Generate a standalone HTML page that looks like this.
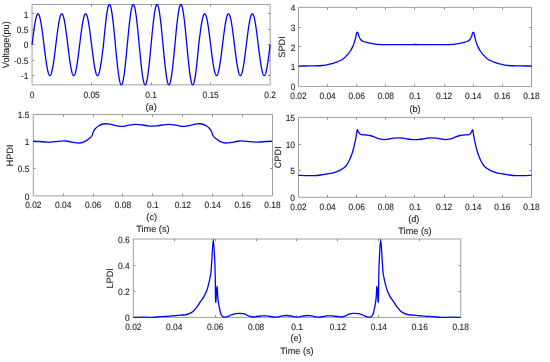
<!DOCTYPE html>
<html><head><meta charset="utf-8"><style>
html,body{margin:0;padding:0;background:#fff;width:550px;height:362px;overflow:hidden}
svg{display:block}
text{font-family:"Liberation Sans",Arial,Helvetica,sans-serif;fill:#262626;stroke:#262626;stroke-width:0.12px;text-rendering:geometricPrecision}
</style></head><body>
<svg width="550" height="362" viewBox="0 0 550 362">
<rect width="550" height="362" fill="#fff"/>
<clipPath id="ca"><rect x="31.05" y="3.5" width="240.1" height="82.35"/></clipPath>
<path d="M32.05 4.5H270.15V84.85H32.05Z" fill="none" stroke="#a0a0a0" stroke-width="1"/>
<path d="M91.5 84.85v-2.2M91.5 4.5v2.2M151.5 84.85v-2.2M151.5 4.5v2.2M210.5 84.85v-2.2M210.5 4.5v2.2M32.05 75.5h2.2M270.15 75.5h-2.2M32.05 60.5h2.2M270.15 60.5h-2.2M32.05 44.5h2.2M270.15 44.5h-2.2M32.05 29.5h2.2M270.15 29.5h-2.2M32.05 13.5h2.2M270.15 13.5h-2.2" fill="none" stroke="#8a8a8a" stroke-width="1"/>
<path d="M32.05 44.67 32.2 43.46 32.35 42.25 32.5 41.04 32.65 39.84 32.79 38.65 32.94 37.46 33.09 36.29 33.24 35.13 33.39 33.98 33.54 32.85 33.69 31.74 33.84 30.64 33.98 29.57 34.13 28.53 34.28 27.51 34.43 26.51 34.58 25.54 34.73 24.6 34.88 23.7 35.03 22.82 35.18 21.98 35.32 21.18 35.47 20.41 35.62 19.67 35.77 18.98 35.92 18.33 36.07 17.71 36.22 17.14 36.37 16.61 36.51 16.12 36.66 15.68 36.81 15.28 36.96 14.93 37.11 14.63 37.26 14.36 37.41 14.15 37.56 13.99 37.7 13.87 37.85 13.79 38 13.77 38.15 13.79 38.3 13.87 38.45 13.99 38.6 14.15 38.75 14.36 38.9 14.63 39.04 14.93 39.19 15.28 39.34 15.68 39.49 16.12 39.64 16.61 39.79 17.14 39.94 17.71 40.09 18.33 40.23 18.98 40.38 19.67 40.53 20.41 40.68 21.18 40.83 21.98 40.98 22.82 41.13 23.7 41.28 24.6 41.43 25.54 41.57 26.51 41.72 27.51 41.87 28.53 42.02 29.57 42.17 30.64 42.32 31.74 42.47 32.85 42.62 33.98 42.76 35.13 42.91 36.29 43.06 37.46 43.21 38.65 43.36 39.84 43.51 41.04 43.66 42.25 43.81 43.46 43.95 44.67 44.1 45.89 44.25 47.1 44.4 48.31 44.55 49.51 44.7 50.7 44.85 51.89 45 53.06 45.15 54.22 45.29 55.37 45.44 56.5 45.59 57.61 45.74 58.71 45.89 59.78 46.04 60.82 46.19 61.84 46.34 62.84 46.48 63.81 46.63 64.75 46.78 65.65 46.93 66.53 47.08 67.37 47.23 68.17 47.38 68.94 47.53 69.68 47.68 70.37 47.82 71.02 47.97 71.64 48.12 72.21 48.27 72.74 48.42 73.23 48.57 73.67 48.72 74.07 48.87 74.42 49.01 74.72 49.16 74.99 49.31 75.2 49.46 75.36 49.61 75.48 49.76 75.56 49.91 75.58 50.06 75.56 50.21 75.48 50.35 75.36 50.5 75.2 50.65 74.99 50.8 74.72 50.95 74.42 51.1 74.07 51.25 73.67 51.4 73.23 51.54 72.74 51.69 72.21 51.84 71.64 51.99 71.02 52.14 70.37 52.29 69.68 52.44 68.94 52.59 68.17 52.73 67.37 52.88 66.53 53.03 65.65 53.18 64.75 53.33 63.81 53.48 62.84 53.63 61.84 53.78 60.82 53.93 59.78 54.07 58.71 54.22 57.61 54.37 56.5 54.52 55.37 54.67 54.22 54.82 53.06 54.97 51.89 55.12 50.7 55.26 49.51 55.41 48.31 55.56 47.1 55.71 45.89 55.86 44.68 56.01 43.46 56.16 42.25 56.31 41.04 56.46 39.84 56.6 38.65 56.75 37.46 56.9 36.29 57.05 35.13 57.2 33.98 57.35 32.85 57.5 31.74 57.65 30.64 57.79 29.57 57.94 28.53 58.09 27.51 58.24 26.51 58.39 25.54 58.54 24.6 58.69 23.7 58.84 22.82 58.99 21.98 59.13 21.18 59.28 20.41 59.43 19.67 59.58 18.98 59.73 18.33 59.88 17.71 60.03 17.14 60.18 16.61 60.32 16.12 60.47 15.68 60.62 15.28 60.77 14.93 60.92 14.63 61.07 14.36 61.22 14.15 61.37 13.99 61.51 13.87 61.66 13.79 61.81 13.77 61.96 13.79 62.11 13.87 62.26 13.99 62.41 14.15 62.56 14.36 62.71 14.63 62.85 14.93 63 15.28 63.15 15.68 63.3 16.12 63.45 16.61 63.6 17.14 63.75 17.71 63.9 18.33 64.04 18.98 64.19 19.67 64.34 20.41 64.49 21.18 64.64 21.98 64.79 22.82 64.94 23.7 65.09 24.6 65.24 25.54 65.38 26.51 65.53 27.51 65.68 28.53 65.83 29.57 65.98 30.64 66.13 31.74 66.28 32.85 66.43 33.98 66.57 35.13 66.72 36.29 66.87 37.46 67.02 38.65 67.17 39.84 67.32 41.04 67.47 42.25 67.62 43.46 67.76 44.67 67.91 45.89 68.06 47.1 68.21 48.31 68.36 49.51 68.51 50.7 68.66 51.89 68.81 53.06 68.96 54.22 69.1 55.37 69.25 56.5 69.4 57.61 69.55 58.71 69.7 59.78 69.85 60.82 70 61.84 70.15 62.84 70.29 63.81 70.44 64.75 70.59 65.65 70.74 66.53 70.89 67.37 71.04 68.17 71.19 68.94 71.34 69.68 71.49 70.37 71.63 71.02 71.78 71.64 71.93 72.21 72.08 72.74 72.23 73.23 72.38 73.67 72.53 74.07 72.68 74.42 72.82 74.72 72.97 74.99 73.12 75.2 73.27 75.36 73.42 75.48 73.57 75.56 73.72 75.58 73.87 75.56 74.02 75.48 74.16 75.36 74.31 75.2 74.46 74.99 74.61 74.72 74.76 74.42 74.91 74.07 75.06 73.67 75.21 73.23 75.35 72.74 75.5 72.21 75.65 71.64 75.8 71.02 75.95 70.37 76.1 69.68 76.25 68.94 76.4 68.17 76.54 67.37 76.69 66.53 76.84 65.65 76.99 64.75 77.14 63.81 77.29 62.84 77.44 61.84 77.59 60.82 77.74 59.78 77.88 58.71 78.03 57.61 78.18 56.5 78.33 55.37 78.48 54.22 78.63 53.06 78.78 51.89 78.93 50.7 79.07 49.51 79.22 48.31 79.37 47.1 79.52 45.89 79.67 44.68 79.82 43.46 79.97 42.25 80.12 41.04 80.27 39.84 80.41 38.65 80.56 37.46 80.71 36.29 80.86 35.13 81.01 33.98 81.16 32.85 81.31 31.74 81.46 30.64 81.6 29.57 81.75 28.53 81.9 27.51 82.05 26.51 82.2 25.54 82.35 24.6 82.5 23.7 82.65 22.82 82.8 21.98 82.94 21.18 83.09 20.41 83.24 19.67 83.39 18.98 83.54 18.33 83.69 17.71 83.84 17.14 83.99 16.61 84.13 16.12 84.28 15.68 84.43 15.28 84.58 14.93 84.73 14.63 84.88 14.36 85.03 14.15 85.18 13.99 85.32 13.87 85.47 13.79 85.62 13.77 85.77 13.79 85.92 13.87 86.07 13.99 86.22 14.15 86.37 14.36 86.52 14.63 86.66 14.93 86.81 15.28 86.96 15.68 87.11 16.12 87.26 16.61 87.41 17.14 87.56 17.71 87.71 18.33 87.85 18.98 88 19.67 88.15 20.41 88.3 21.18 88.45 21.98 88.6 22.82 88.75 23.7 88.9 24.6 89.05 25.54 89.19 26.51 89.34 27.51 89.49 28.53 89.64 29.57 89.79 30.64 89.94 31.74 90.09 32.85 90.24 33.98 90.38 35.13 90.53 36.29 90.68 37.46 90.83 38.65 90.98 39.84 91.13 41.04 91.28 42.25 91.43 43.46 91.57 44.68 91.72 45.89 91.87 47.1 92.02 48.31 92.17 49.51 92.32 50.7 92.47 51.89 92.62 53.06 92.77 54.22 92.91 55.37 93.06 56.5 93.21 57.61 93.36 58.71 93.51 59.78 93.66 60.82 93.81 61.84 93.96 62.84 94.1 63.81 94.25 64.75 94.4 65.65 94.55 66.53 94.7 67.37 94.85 68.17 95 68.94 95.15 69.68 95.3 70.37 95.44 71.02 95.59 71.64 95.74 72.21 95.89 72.74 96.04 73.23 96.19 73.67 96.34 74.07 96.49 74.42 96.63 74.72 96.78 74.99 96.93 75.2 97.08 75.36 97.23 75.48 97.38 75.56 97.53 75.58 97.68 75.56 97.83 75.48 97.97 75.36 98.12 75.2 98.27 74.99 98.42 74.72 98.57 74.42 98.72 74.07 98.87 73.67 99.02 73.23 99.16 72.74 99.31 72.21 99.46 71.64 99.61 71.02 99.76 70.37 99.91 69.68 100.06 68.94 100.21 68.17 100.35 67.37 100.5 66.53 100.65 65.65 100.8 64.75 100.95 63.81 101.1 62.84 101.25 61.84 101.4 60.82 101.55 59.78 101.69 58.71 101.84 57.61 101.99 56.5 102.14 55.37 102.29 54.22 102.44 53.06 102.59 51.89 102.74 50.7 102.88 49.51 103.03 48.31 103.18 47.1 103.33 45.89 103.48 44.68 103.63 43.1 103.78 41.52 103.93 39.95 104.08 38.39 104.22 36.84 104.37 35.3 104.52 33.77 104.67 32.26 104.82 30.77 104.97 29.3 105.12 27.86 105.27 26.44 105.41 25.04 105.56 23.68 105.71 22.35 105.86 21.06 106.01 19.8 106.16 18.58 106.31 17.4 106.46 16.27 106.61 15.17 106.75 14.13 106.9 13.12 107.05 12.17 107.2 11.27 107.35 10.42 107.5 9.62 107.65 8.88 107.8 8.19 107.94 7.56 108.09 6.98 108.24 6.47 108.39 6.01 108.54 5.61 108.69 5.27 108.84 4.99 108.99 4.78 109.13 4.62 109.28 4.53 109.43 4.5 109.58 4.53 109.73 4.62 109.88 4.78 110.03 4.99 110.18 5.27 110.33 5.61 110.47 6.01 110.62 6.47 110.77 6.98 110.92 7.56 111.07 8.19 111.22 8.88 111.37 9.62 111.52 10.42 111.66 11.27 111.81 12.17 111.96 13.12 112.11 14.13 112.26 15.17 112.41 16.27 112.56 17.4 112.71 18.58 112.86 19.8 113 21.06 113.15 22.35 113.3 23.68 113.45 25.04 113.6 26.44 113.75 27.86 113.9 29.3 114.05 30.77 114.19 32.26 114.34 33.77 114.49 35.3 114.64 36.84 114.79 38.39 114.94 39.95 115.09 41.52 115.24 43.1 115.38 44.68 115.53 46.25 115.68 47.83 115.83 49.4 115.98 50.96 116.13 52.51 116.28 54.05 116.43 55.58 116.58 57.09 116.72 58.58 116.87 60.05 117.02 61.49 117.17 62.91 117.32 64.31 117.47 65.67 117.62 67 117.77 68.29 117.91 69.55 118.06 70.77 118.21 71.95 118.36 73.08 118.51 74.18 118.66 75.22 118.81 76.23 118.96 77.18 119.11 78.08 119.25 78.93 119.4 79.73 119.55 80.47 119.7 81.16 119.85 81.79 120 82.37 120.15 82.88 120.3 83.34 120.44 83.74 120.59 84.08 120.74 84.36 120.89 84.57 121.04 84.73 121.19 84.82 121.34 84.85 121.49 84.82 121.64 84.73 121.78 84.57 121.93 84.36 122.08 84.08 122.23 83.74 122.38 83.34 122.53 82.88 122.68 82.37 122.83 81.79 122.97 81.16 123.12 80.47 123.27 79.73 123.42 78.93 123.57 78.08 123.72 77.18 123.87 76.23 124.02 75.22 124.16 74.18 124.31 73.08 124.46 71.95 124.61 70.77 124.76 69.55 124.91 68.29 125.06 67 125.21 65.67 125.36 64.31 125.5 62.91 125.65 61.49 125.8 60.05 125.95 58.58 126.1 57.09 126.25 55.58 126.4 54.05 126.55 52.51 126.69 50.96 126.84 49.4 126.99 47.83 127.14 46.25 127.29 44.68 127.44 43.1 127.59 41.52 127.74 39.95 127.89 38.39 128.03 36.84 128.18 35.3 128.33 33.77 128.48 32.26 128.63 30.77 128.78 29.3 128.93 27.86 129.08 26.44 129.22 25.04 129.37 23.68 129.52 22.35 129.67 21.06 129.82 19.8 129.97 18.58 130.12 17.4 130.27 16.27 130.42 15.17 130.56 14.13 130.71 13.12 130.86 12.17 131.01 11.27 131.16 10.42 131.31 9.62 131.46 8.88 131.61 8.19 131.75 7.56 131.9 6.98 132.05 6.47 132.2 6.01 132.35 5.61 132.5 5.27 132.65 4.99 132.8 4.78 132.94 4.62 133.09 4.53 133.24 4.5 133.39 4.53 133.54 4.62 133.69 4.78 133.84 4.99 133.99 5.27 134.14 5.61 134.28 6.01 134.43 6.47 134.58 6.98 134.73 7.56 134.88 8.19 135.03 8.88 135.18 9.62 135.33 10.42 135.47 11.27 135.62 12.17 135.77 13.12 135.92 14.13 136.07 15.17 136.22 16.27 136.37 17.4 136.52 18.58 136.67 19.8 136.81 21.06 136.96 22.35 137.11 23.68 137.26 25.04 137.41 26.44 137.56 27.86 137.71 29.3 137.86 30.77 138 32.26 138.15 33.77 138.3 35.3 138.45 36.84 138.6 38.39 138.75 39.95 138.9 41.52 139.05 43.1 139.19 44.67 139.34 46.25 139.49 47.83 139.64 49.4 139.79 50.96 139.94 52.51 140.09 54.05 140.24 55.58 140.39 57.09 140.53 58.58 140.68 60.05 140.83 61.49 140.98 62.91 141.13 64.31 141.28 65.67 141.43 67 141.58 68.29 141.72 69.55 141.87 70.77 142.02 71.95 142.17 73.08 142.32 74.18 142.47 75.22 142.62 76.23 142.77 77.18 142.92 78.08 143.06 78.93 143.21 79.73 143.36 80.47 143.51 81.16 143.66 81.79 143.81 82.37 143.96 82.88 144.11 83.34 144.25 83.74 144.4 84.08 144.55 84.36 144.7 84.57 144.85 84.73 145 84.82 145.15 84.85 145.3 84.82 145.45 84.73 145.59 84.57 145.74 84.36 145.89 84.08 146.04 83.74 146.19 83.34 146.34 82.88 146.49 82.37 146.64 81.79 146.78 81.16 146.93 80.47 147.08 79.73 147.23 78.93 147.38 78.08 147.53 77.18 147.68 76.23 147.83 75.22 147.97 74.18 148.12 73.08 148.27 71.95 148.42 70.77 148.57 69.55 148.72 68.29 148.87 67 149.02 65.67 149.17 64.31 149.31 62.91 149.46 61.49 149.61 60.05 149.76 58.58 149.91 57.09 150.06 55.58 150.21 54.05 150.36 52.51 150.5 50.96 150.65 49.4 150.8 47.83 150.95 46.25 151.1 44.67 151.25 43.1 151.4 41.52 151.55 39.95 151.7 38.39 151.84 36.84 151.99 35.3 152.14 33.77 152.29 32.26 152.44 30.77 152.59 29.3 152.74 27.86 152.89 26.44 153.03 25.04 153.18 23.68 153.33 22.35 153.48 21.06 153.63 19.8 153.78 18.58 153.93 17.4 154.08 16.27 154.23 15.17 154.37 14.13 154.52 13.12 154.67 12.17 154.82 11.27 154.97 10.42 155.12 9.62 155.27 8.88 155.42 8.19 155.56 7.56 155.71 6.98 155.86 6.47 156.01 6.01 156.16 5.61 156.31 5.27 156.46 4.99 156.61 4.78 156.75 4.62 156.9 4.53 157.05 4.5 157.2 4.53 157.35 4.62 157.5 4.78 157.65 4.99 157.8 5.27 157.95 5.61 158.09 6.01 158.24 6.47 158.39 6.98 158.54 7.56 158.69 8.19 158.84 8.88 158.99 9.62 159.14 10.42 159.28 11.27 159.43 12.17 159.58 13.12 159.73 14.13 159.88 15.17 160.03 16.27 160.18 17.4 160.33 18.58 160.48 19.8 160.62 21.06 160.77 22.35 160.92 23.68 161.07 25.04 161.22 26.44 161.37 27.86 161.52 29.3 161.67 30.77 161.81 32.26 161.96 33.77 162.11 35.3 162.26 36.84 162.41 38.39 162.56 39.95 162.71 41.52 162.86 43.1 163 44.68 163.15 46.25 163.3 47.83 163.45 49.4 163.6 50.96 163.75 52.51 163.9 54.05 164.05 55.58 164.2 57.09 164.34 58.58 164.49 60.05 164.64 61.49 164.79 62.91 164.94 64.31 165.09 65.67 165.24 67 165.39 68.29 165.53 69.55 165.68 70.77 165.83 71.95 165.98 73.08 166.13 74.18 166.28 75.22 166.43 76.23 166.58 77.18 166.73 78.08 166.87 78.93 167.02 79.73 167.17 80.47 167.32 81.16 167.47 81.79 167.62 82.37 167.77 82.88 167.92 83.34 168.06 83.74 168.21 84.08 168.36 84.36 168.51 84.57 168.66 84.73 168.81 84.82 168.96 84.85 169.11 84.82 169.26 84.73 169.4 84.57 169.55 84.36 169.7 84.08 169.85 83.74 170 83.34 170.15 82.88 170.3 82.37 170.45 81.79 170.59 81.16 170.74 80.47 170.89 79.73 171.04 78.93 171.19 78.08 171.34 77.18 171.49 76.23 171.64 75.22 171.78 74.18 171.93 73.08 172.08 71.95 172.23 70.77 172.38 69.55 172.53 68.29 172.68 67 172.83 65.67 172.98 64.31 173.12 62.91 173.27 61.49 173.42 60.05 173.57 58.58 173.72 57.09 173.87 55.58 174.02 54.05 174.17 52.51 174.31 50.96 174.46 49.4 174.61 47.83 174.76 46.25 174.91 44.68 175.06 43.1 175.21 41.52 175.36 39.95 175.51 38.39 175.65 36.84 175.8 35.3 175.95 33.77 176.1 32.26 176.25 30.77 176.4 29.3 176.55 27.86 176.7 26.44 176.84 25.04 176.99 23.68 177.14 22.35 177.29 21.06 177.44 19.8 177.59 18.58 177.74 17.4 177.89 16.27 178.04 15.17 178.18 14.13 178.33 13.12 178.48 12.17 178.63 11.27 178.78 10.42 178.93 9.62 179.08 8.88 179.23 8.19 179.37 7.56 179.52 6.98 179.67 6.47 179.82 6.01 179.97 5.61 180.12 5.27 180.27 4.99 180.42 4.78 180.56 4.62 180.71 4.53 180.86 4.5 181.01 4.53 181.16 4.62 181.31 4.78 181.46 4.99 181.61 5.27 181.76 5.61 181.9 6.01 182.05 6.47 182.2 6.98 182.35 7.56 182.5 8.19 182.65 8.88 182.8 9.62 182.95 10.42 183.09 11.27 183.24 12.17 183.39 13.12 183.54 14.13 183.69 15.17 183.84 16.27 183.99 17.4 184.14 18.58 184.29 19.8 184.43 21.06 184.58 22.35 184.73 23.68 184.88 25.04 185.03 26.44 185.18 27.86 185.33 29.3 185.48 30.77 185.62 32.26 185.77 33.77 185.92 35.3 186.07 36.84 186.22 38.39 186.37 39.95 186.52 41.52 186.67 43.1 186.81 44.68 186.96 46.25 187.11 47.83 187.26 49.4 187.41 50.96 187.56 52.51 187.71 54.05 187.86 55.58 188.01 57.09 188.15 58.58 188.3 60.05 188.45 61.49 188.6 62.91 188.75 64.31 188.9 65.67 189.05 67 189.2 68.29 189.34 69.55 189.49 70.77 189.64 71.95 189.79 73.08 189.94 74.18 190.09 75.22 190.24 76.23 190.39 77.18 190.54 78.08 190.68 78.93 190.83 79.73 190.98 80.47 191.13 81.16 191.28 81.79 191.43 82.37 191.58 82.88 191.73 83.34 191.87 83.74 192.02 84.08 192.17 84.36 192.32 84.57 192.47 84.73 192.62 84.82 192.77 84.85 192.92 84.82 193.07 84.73 193.21 84.57 193.36 84.36 193.51 84.08 193.66 83.74 193.81 83.34 193.96 82.88 194.11 82.37 194.26 81.79 194.4 81.16 194.55 80.47 194.7 79.73 194.85 78.93 195 78.08 195.15 77.18 195.3 76.23 195.45 75.22 195.59 74.18 195.74 73.08 195.89 71.95 196.04 70.77 196.19 69.55 196.34 68.29 196.49 67 196.64 65.67 196.79 64.31 196.93 62.91 197.08 61.49 197.23 60.05 197.38 58.58 197.53 57.09 197.68 55.58 197.83 54.05 197.98 52.51 198.12 50.96 198.27 49.4 198.42 47.83 198.57 46.25 198.72 44.67 198.87 43.46 199.02 42.25 199.17 41.04 199.32 39.84 199.46 38.65 199.61 37.46 199.76 36.29 199.91 35.13 200.06 33.98 200.21 32.85 200.36 31.74 200.51 30.64 200.65 29.57 200.8 28.53 200.95 27.51 201.1 26.51 201.25 25.54 201.4 24.6 201.55 23.7 201.7 22.82 201.85 21.98 201.99 21.18 202.14 20.41 202.29 19.67 202.44 18.98 202.59 18.33 202.74 17.71 202.89 17.14 203.04 16.61 203.18 16.12 203.33 15.68 203.48 15.28 203.63 14.93 203.78 14.63 203.93 14.36 204.08 14.15 204.23 13.99 204.37 13.87 204.52 13.79 204.67 13.77 204.82 13.79 204.97 13.87 205.12 13.99 205.27 14.15 205.42 14.36 205.57 14.63 205.71 14.93 205.86 15.28 206.01 15.68 206.16 16.12 206.31 16.61 206.46 17.14 206.61 17.71 206.76 18.33 206.9 18.98 207.05 19.67 207.2 20.41 207.35 21.18 207.5 21.98 207.65 22.82 207.8 23.7 207.95 24.6 208.1 25.54 208.24 26.51 208.39 27.51 208.54 28.53 208.69 29.57 208.84 30.64 208.99 31.74 209.14 32.85 209.29 33.98 209.43 35.13 209.58 36.29 209.73 37.46 209.88 38.65 210.03 39.84 210.18 41.04 210.33 42.25 210.48 43.46 210.62 44.68 210.77 45.89 210.92 47.1 211.07 48.31 211.22 49.51 211.37 50.7 211.52 51.89 211.67 53.06 211.82 54.22 211.96 55.37 212.11 56.5 212.26 57.61 212.41 58.71 212.56 59.78 212.71 60.82 212.86 61.84 213.01 62.84 213.15 63.81 213.3 64.75 213.45 65.65 213.6 66.53 213.75 67.37 213.9 68.17 214.05 68.94 214.2 69.68 214.35 70.37 214.49 71.02 214.64 71.64 214.79 72.21 214.94 72.74 215.09 73.23 215.24 73.67 215.39 74.07 215.54 74.42 215.68 74.72 215.83 74.99 215.98 75.2 216.13 75.36 216.28 75.48 216.43 75.56 216.58 75.58 216.73 75.56 216.88 75.48 217.02 75.36 217.17 75.2 217.32 74.99 217.47 74.72 217.62 74.42 217.77 74.07 217.92 73.67 218.07 73.23 218.21 72.74 218.36 72.21 218.51 71.64 218.66 71.02 218.81 70.37 218.96 69.68 219.11 68.94 219.26 68.17 219.4 67.37 219.55 66.53 219.7 65.65 219.85 64.75 220 63.81 220.15 62.84 220.3 61.84 220.45 60.82 220.6 59.78 220.74 58.71 220.89 57.61 221.04 56.5 221.19 55.37 221.34 54.22 221.49 53.06 221.64 51.89 221.79 50.7 221.93 49.51 222.08 48.31 222.23 47.1 222.38 45.89 222.53 44.68 222.68 43.46 222.83 42.25 222.98 41.04 223.13 39.84 223.27 38.65 223.42 37.46 223.57 36.29 223.72 35.13 223.87 33.98 224.02 32.85 224.17 31.74 224.32 30.64 224.46 29.57 224.61 28.53 224.76 27.51 224.91 26.51 225.06 25.54 225.21 24.6 225.36 23.7 225.51 22.82 225.66 21.98 225.8 21.18 225.95 20.41 226.1 19.67 226.25 18.98 226.4 18.33 226.55 17.71 226.7 17.14 226.85 16.61 226.99 16.12 227.14 15.68 227.29 15.28 227.44 14.93 227.59 14.63 227.74 14.36 227.89 14.15 228.04 13.99 228.18 13.87 228.33 13.79 228.48 13.77 228.63 13.79 228.78 13.87 228.93 13.99 229.08 14.15 229.23 14.36 229.38 14.63 229.52 14.93 229.67 15.28 229.82 15.68 229.97 16.12 230.12 16.61 230.27 17.14 230.42 17.71 230.57 18.33 230.71 18.98 230.86 19.67 231.01 20.41 231.16 21.18 231.31 21.98 231.46 22.82 231.61 23.7 231.76 24.6 231.91 25.54 232.05 26.51 232.2 27.51 232.35 28.53 232.5 29.57 232.65 30.64 232.8 31.74 232.95 32.85 233.1 33.98 233.24 35.13 233.39 36.29 233.54 37.46 233.69 38.65 233.84 39.84 233.99 41.04 234.14 42.25 234.29 43.46 234.43 44.68 234.58 45.89 234.73 47.1 234.88 48.31 235.03 49.51 235.18 50.7 235.33 51.89 235.48 53.06 235.63 54.22 235.77 55.37 235.92 56.5 236.07 57.61 236.22 58.71 236.37 59.78 236.52 60.82 236.67 61.84 236.82 62.84 236.96 63.81 237.11 64.75 237.26 65.65 237.41 66.53 237.56 67.37 237.71 68.17 237.86 68.94 238.01 69.68 238.16 70.37 238.3 71.02 238.45 71.64 238.6 72.21 238.75 72.74 238.9 73.23 239.05 73.67 239.2 74.07 239.35 74.42 239.49 74.72 239.64 74.99 239.79 75.2 239.94 75.36 240.09 75.48 240.24 75.56 240.39 75.58 240.54 75.56 240.69 75.48 240.83 75.36 240.98 75.2 241.13 74.99 241.28 74.72 241.43 74.42 241.58 74.07 241.73 73.67 241.88 73.23 242.02 72.74 242.17 72.21 242.32 71.64 242.47 71.02 242.62 70.37 242.77 69.68 242.92 68.94 243.07 68.17 243.21 67.37 243.36 66.53 243.51 65.65 243.66 64.75 243.81 63.81 243.96 62.84 244.11 61.84 244.26 60.82 244.41 59.78 244.55 58.71 244.7 57.61 244.85 56.5 245 55.37 245.15 54.22 245.3 53.06 245.45 51.89 245.6 50.7 245.74 49.51 245.89 48.31 246.04 47.1 246.19 45.89 246.34 44.68 246.49 43.46 246.64 42.25 246.79 41.04 246.94 39.84 247.08 38.65 247.23 37.46 247.38 36.29 247.53 35.13 247.68 33.98 247.83 32.85 247.98 31.74 248.13 30.64 248.27 29.57 248.42 28.53 248.57 27.51 248.72 26.51 248.87 25.54 249.02 24.6 249.17 23.7 249.32 22.82 249.47 21.98 249.61 21.18 249.76 20.41 249.91 19.67 250.06 18.98 250.21 18.33 250.36 17.71 250.51 17.14 250.66 16.61 250.8 16.12 250.95 15.68 251.1 15.28 251.25 14.93 251.4 14.63 251.55 14.36 251.7 14.15 251.85 13.99 251.99 13.87 252.14 13.79 252.29 13.77 252.44 13.79 252.59 13.87 252.74 13.99 252.89 14.15 253.04 14.36 253.19 14.63 253.33 14.93 253.48 15.28 253.63 15.68 253.78 16.12 253.93 16.61 254.08 17.14 254.23 17.71 254.38 18.33 254.52 18.98 254.67 19.67 254.82 20.41 254.97 21.18 255.12 21.98 255.27 22.82 255.42 23.7 255.57 24.6 255.72 25.54 255.86 26.51 256.01 27.51 256.16 28.53 256.31 29.57 256.46 30.64 256.61 31.74 256.76 32.85 256.91 33.98 257.05 35.13 257.2 36.29 257.35 37.46 257.5 38.65 257.65 39.84 257.8 41.04 257.95 42.25 258.1 43.46 258.24 44.68 258.39 45.89 258.54 47.1 258.69 48.31 258.84 49.51 258.99 50.7 259.14 51.89 259.29 53.06 259.44 54.22 259.58 55.37 259.73 56.5 259.88 57.61 260.03 58.71 260.18 59.78 260.33 60.82 260.48 61.84 260.63 62.84 260.77 63.81 260.92 64.75 261.07 65.65 261.22 66.53 261.37 67.37 261.52 68.17 261.67 68.94 261.82 69.68 261.97 70.37 262.11 71.02 262.26 71.64 262.41 72.21 262.56 72.74 262.71 73.23 262.86 73.67 263.01 74.07 263.16 74.42 263.3 74.72 263.45 74.99 263.6 75.2 263.75 75.36 263.9 75.48 264.05 75.56 264.2 75.58 264.35 75.56 264.5 75.48 264.64 75.36 264.79 75.2 264.94 74.99 265.09 74.72 265.24 74.42 265.39 74.07 265.54 73.67 265.69 73.23 265.83 72.74 265.98 72.21 266.13 71.64 266.28 71.02 266.43 70.37 266.58 69.68 266.73 68.94 266.88 68.17 267.02 67.37 267.17 66.53 267.32 65.65 267.47 64.75 267.62 63.81 267.77 62.84 267.92 61.84 268.07 60.82 268.22 59.78 268.36 58.71 268.51 57.61 268.66 56.5 268.81 55.37 268.96 54.22 269.11 53.06 269.26 51.89 269.41 50.7 269.55 49.51 269.7 48.31 269.85 47.1 270 45.89 270.15 44.67" fill="none" stroke="#0000ff" stroke-width="1.3" stroke-linejoin="round" clip-path="url(#ca)"/>
<g font-size="9.1" text-anchor="middle"><text transform="translate(32.05 97.55) scale(0.92 1)">0</text><text transform="translate(91.57 97.55) scale(0.92 1)">0.05</text><text transform="translate(151.1 97.55) scale(0.92 1)">0.1</text><text transform="translate(210.62 97.55) scale(0.92 1)">0.15</text><text transform="translate(270.15 97.55) scale(0.92 1)">0.2</text></g>
<g font-size="9.1" text-anchor="end"><text transform="translate(28.45 79.38) scale(0.92 1)">-1</text><text transform="translate(28.45 63.93) scale(0.92 1)">-0.5</text><text transform="translate(28.45 48.47) scale(0.92 1)">0</text><text transform="translate(28.45 33.02) scale(0.92 1)">0.5</text><text transform="translate(28.45 17.57) scale(0.92 1)">1</text></g>
<text font-size="9.2" text-anchor="middle" x="151.1" y="110.05">(a)</text>
<clipPath id="cb"><rect x="297.5" y="6.4" width="235" height="81"/></clipPath>
<path d="M298.5 7.4H531.5V86.4H298.5Z" fill="none" stroke="#a0a0a0" stroke-width="1"/>
<path d="M327.5 86.4v-2.2M327.5 7.4v2.2M356.5 86.4v-2.2M356.5 7.4v2.2M385.5 86.4v-2.2M385.5 7.4v2.2M414.5 86.4v-2.2M414.5 7.4v2.2M444.5 86.4v-2.2M444.5 7.4v2.2M473.5 86.4v-2.2M473.5 7.4v2.2M502.5 86.4v-2.2M502.5 7.4v2.2M298.5 66.5h2.2M531.5 66.5h-2.2M298.5 46.5h2.2M531.5 46.5h-2.2M298.5 27.5h2.2M531.5 27.5h-2.2" fill="none" stroke="#8a8a8a" stroke-width="1"/>
<path d="M298.5 66.1C300.27 66.07 306.25 65.95 309.1 65.9C311.95 65.85 313.42 65.87 315.6 65.8C317.78 65.73 320.33 65.67 322.2 65.5C324.07 65.33 325.17 65.12 326.8 64.8C328.43 64.48 330.55 64 332 63.6C333.45 63.2 334.28 62.83 335.5 62.4C336.72 61.97 337.93 61.65 339.3 61C340.67 60.35 342.38 59.5 343.7 58.5C345.02 57.5 346.1 56.25 347.2 55C348.3 53.75 349.42 52.32 350.3 51C351.18 49.68 351.83 48.5 352.5 47.1C353.17 45.7 353.78 44.15 354.3 42.6C354.82 41.05 355.18 39.47 355.6 37.8C356.02 36.13 356.38 33.38 356.8 32.6C357.22 31.82 357.73 32.43 358.1 33.1C358.47 33.77 358.55 35.5 359 36.6C359.45 37.7 360.07 38.88 360.8 39.7C361.53 40.52 362.45 41.05 363.4 41.5C364.35 41.95 365.25 42.08 366.5 42.4C367.75 42.72 369.42 43.1 370.9 43.4C372.38 43.7 373.92 44.02 375.4 44.2C376.88 44.38 378.33 44.43 379.8 44.5C381.27 44.57 378.33 44.6 384.2 44.6C390.07 44.6 409.77 44.52 415 44.5C420.23 44.48 410.37 44.48 415.6 44.5C420.83 44.52 440.53 44.6 446.4 44.6C452.27 44.6 449.33 44.57 450.8 44.5C452.27 44.43 453.72 44.38 455.2 44.2C456.68 44.02 458.22 43.7 459.7 43.4C461.18 43.1 462.85 42.72 464.1 42.4C465.35 42.08 466.25 41.95 467.2 41.5C468.15 41.05 469.07 40.52 469.8 39.7C470.53 38.88 471.15 37.7 471.6 36.6C472.05 35.5 472.13 33.77 472.5 33.1C472.87 32.43 473.38 31.82 473.8 32.6C474.22 33.38 474.58 36.13 475 37.8C475.42 39.47 475.78 41.05 476.3 42.6C476.82 44.15 477.43 45.7 478.1 47.1C478.77 48.5 479.42 49.68 480.3 51C481.18 52.32 482.3 53.75 483.4 55C484.5 56.25 485.58 57.5 486.9 58.5C488.22 59.5 489.93 60.35 491.3 61C492.67 61.65 493.88 61.97 495.1 62.4C496.32 62.83 497.15 63.2 498.6 63.6C500.05 64 502.17 64.48 503.8 64.8C505.43 65.12 506.53 65.33 508.4 65.5C510.27 65.67 512.82 65.73 515 65.8C517.18 65.87 518.65 65.85 521.5 65.9C524.35 65.95 530.33 66.07 532.1 66.1" fill="none" stroke="#0000ff" stroke-width="1.3" stroke-linejoin="round" clip-path="url(#cb)"/>
<g font-size="9.1" text-anchor="middle"><text transform="translate(298.5 98.8) scale(0.92 1)">0.02</text><text transform="translate(327.62 98.8) scale(0.92 1)">0.04</text><text transform="translate(356.75 98.8) scale(0.92 1)">0.06</text><text transform="translate(385.88 98.8) scale(0.92 1)">0.08</text><text transform="translate(415 98.8) scale(0.92 1)">0.1</text><text transform="translate(444.12 98.8) scale(0.92 1)">0.12</text><text transform="translate(473.25 98.8) scale(0.92 1)">0.14</text><text transform="translate(502.38 98.8) scale(0.92 1)">0.16</text><text transform="translate(531.5 98.8) scale(0.92 1)">0.18</text></g>
<g font-size="9.1" text-anchor="end"><text transform="translate(295.3 90.1) scale(0.92 1)">0</text><text transform="translate(295.3 70.35) scale(0.92 1)">1</text><text transform="translate(295.3 50.6) scale(0.92 1)">2</text><text transform="translate(295.3 30.85) scale(0.92 1)">3</text><text transform="translate(295.3 11.1) scale(0.92 1)">4</text></g>
<text font-size="9.2" text-anchor="middle" x="415" y="111.6">(b)</text>
<clipPath id="cc"><rect x="32.3" y="113.5" width="241.2" height="83.4"/></clipPath>
<path d="M33.3 114.5H272.5V195.9H33.3Z" fill="none" stroke="#a0a0a0" stroke-width="1"/>
<path d="M63.5 195.9v-2.2M63.5 114.5v2.2M93.5 195.9v-2.2M93.5 114.5v2.2M122.5 195.9v-2.2M122.5 114.5v2.2M152.5 195.9v-2.2M152.5 114.5v2.2M182.5 195.9v-2.2M182.5 114.5v2.2M212.5 195.9v-2.2M212.5 114.5v2.2M242.5 195.9v-2.2M242.5 114.5v2.2M33.3 168.5h2.2M272.5 168.5h-2.2M33.3 141.5h2.2M272.5 141.5h-2.2" fill="none" stroke="#8a8a8a" stroke-width="1"/>
<path d="M33 141.2C33.97 141.25 36.35 141.35 38.8 141.5C41.25 141.65 45.03 142.08 47.7 142.1C50.37 142.12 52.15 141.82 54.8 141.6C57.45 141.38 61.25 140.82 63.6 140.8C65.95 140.78 67.13 141.2 68.9 141.5C70.67 141.8 72.47 142.35 74.2 142.6C75.93 142.85 77.57 143.17 79.3 143C81.03 142.83 82.98 142.3 84.6 141.6C86.22 140.9 87.75 139.82 89 138.8C90.25 137.78 91.43 136.57 92.1 135.5C92.77 134.43 92.48 133.52 93 132.4C93.52 131.28 94.23 129.92 95.2 128.8C96.17 127.68 97.47 126.5 98.8 125.7C100.13 124.9 101.73 124.32 103.2 124C104.67 123.68 106.13 123.7 107.6 123.8C109.07 123.9 110.53 124.28 112 124.6C113.47 124.92 114.67 125.4 116.4 125.7C118.13 126 120.37 126.48 122.4 126.4C124.43 126.32 126.38 125.53 128.6 125.2C130.82 124.87 133.33 124.43 135.7 124.4C138.07 124.37 140.73 124.75 142.8 125C144.87 125.25 146.48 125.7 148.1 125.9C149.72 126.1 151.03 126.2 152.5 126.2C153.97 126.2 155.28 126.1 156.9 125.9C158.52 125.7 160.13 125.25 162.2 125C164.27 124.75 166.93 124.37 169.3 124.4C171.67 124.43 174.18 124.87 176.4 125.2C178.62 125.53 180.57 126.32 182.6 126.4C184.63 126.48 186.87 126 188.6 125.7C190.33 125.4 191.53 124.92 193 124.6C194.47 124.28 195.93 123.9 197.4 123.8C198.87 123.7 200.33 123.68 201.8 124C203.27 124.32 204.87 124.9 206.2 125.7C207.53 126.5 208.83 127.68 209.8 128.8C210.77 129.92 211.48 131.28 212 132.4C212.52 133.52 212.23 134.43 212.9 135.5C213.57 136.57 214.75 137.78 216 138.8C217.25 139.82 218.78 140.9 220.4 141.6C222.02 142.3 223.97 142.83 225.7 143C227.43 143.17 229.07 142.85 230.8 142.6C232.53 142.35 234.33 141.8 236.1 141.5C237.87 141.2 239.05 140.78 241.4 140.8C243.75 140.82 247.55 141.38 250.2 141.6C252.85 141.82 254.63 142.12 257.3 142.1C259.97 142.08 263.75 141.65 266.2 141.5C268.65 141.35 271.03 141.25 272 141.2" fill="none" stroke="#0000ff" stroke-width="1.3" stroke-linejoin="round" clip-path="url(#cc)"/>
<g font-size="9.1" text-anchor="middle"><text transform="translate(33.3 208.1) scale(0.92 1)">0.02</text><text transform="translate(63.2 208.1) scale(0.92 1)">0.04</text><text transform="translate(93.1 208.1) scale(0.92 1)">0.06</text><text transform="translate(123 208.1) scale(0.92 1)">0.08</text><text transform="translate(152.9 208.1) scale(0.92 1)">0.1</text><text transform="translate(182.8 208.1) scale(0.92 1)">0.12</text><text transform="translate(212.7 208.1) scale(0.92 1)">0.14</text><text transform="translate(242.6 208.1) scale(0.92 1)">0.16</text><text transform="translate(272.5 208.1) scale(0.92 1)">0.18</text></g>
<g font-size="9.1" text-anchor="end"><text transform="translate(29.5 199.6) scale(0.92 1)">0</text><text transform="translate(29.5 172.47) scale(0.92 1)">0.5</text><text transform="translate(29.5 145.33) scale(0.92 1)">1</text><text transform="translate(29.5 118.2) scale(0.92 1)">1.5</text></g>
<text font-size="9.2" text-anchor="middle" x="151.7" y="220.2">(c)</text>
<text font-size="9.2" text-anchor="middle" x="152.9" y="232.4">Time (s)</text>
<clipPath id="cd"><rect x="297.5" y="116.4" width="235" height="81.9"/></clipPath>
<path d="M298.5 117.4H531.5V197.3H298.5Z" fill="none" stroke="#a0a0a0" stroke-width="1"/>
<path d="M327.5 197.3v-2.2M327.5 117.4v2.2M356.5 197.3v-2.2M356.5 117.4v2.2M385.5 197.3v-2.2M385.5 117.4v2.2M414.5 197.3v-2.2M414.5 117.4v2.2M444.5 197.3v-2.2M444.5 117.4v2.2M473.5 197.3v-2.2M473.5 117.4v2.2M502.5 197.3v-2.2M502.5 117.4v2.2M298.5 170.5h2.2M531.5 170.5h-2.2M298.5 144.5h2.2M531.5 144.5h-2.2" fill="none" stroke="#8a8a8a" stroke-width="1"/>
<path d="M298.5 175.4C299.55 175.43 302.27 175.57 304.8 175.6C307.33 175.63 311.03 175.7 313.7 175.6C316.37 175.5 318.6 175.27 320.8 175C323 174.73 324.85 174.37 326.9 174C328.95 173.63 331.03 173.37 333.1 172.8C335.17 172.23 337.62 171.35 339.3 170.6C340.98 169.85 342.1 169.07 343.2 168.3C344.3 167.53 345.02 167.05 345.9 166C346.78 164.95 347.72 163.4 348.5 162C349.28 160.6 349.88 159.38 350.6 157.6C351.32 155.82 352.13 153.53 352.8 151.3C353.47 149.07 354.08 146.42 354.6 144.2C355.12 141.98 355.58 139.67 355.9 138C356.22 136.33 356.25 135.58 356.5 134.2C356.75 132.82 357.05 130.03 357.4 129.7C357.75 129.37 358.12 131.45 358.6 132.2C359.08 132.95 359.57 133.77 360.3 134.2C361.03 134.63 361.97 134.67 363 134.8C364.03 134.93 365.32 134.88 366.5 135C367.68 135.12 368.92 135.23 370.1 135.5C371.28 135.77 372.43 136.17 373.6 136.6C374.77 137.03 375.92 137.67 377.1 138.1C378.28 138.53 379.48 138.95 380.7 139.2C381.92 139.45 383.05 139.63 384.4 139.6C385.75 139.57 387.32 139.25 388.8 139C390.28 138.75 391.67 138.3 393.3 138.1C394.93 137.9 396.98 137.8 398.6 137.8C400.22 137.8 401.53 137.9 403 138.1C404.47 138.3 405.78 138.75 407.4 139C409.02 139.25 411.43 139.48 412.7 139.6C413.97 139.72 414.23 139.7 415 139.7C415.77 139.7 416.03 139.72 417.3 139.6C418.57 139.48 420.98 139.25 422.6 139C424.22 138.75 425.53 138.3 427 138.1C428.47 137.9 429.78 137.8 431.4 137.8C433.02 137.8 435.07 137.9 436.7 138.1C438.33 138.3 439.72 138.75 441.2 139C442.68 139.25 444.25 139.57 445.6 139.6C446.95 139.63 448.08 139.45 449.3 139.2C450.52 138.95 451.72 138.53 452.9 138.1C454.08 137.67 455.23 137.03 456.4 136.6C457.57 136.17 458.72 135.77 459.9 135.5C461.08 135.23 462.32 135.12 463.5 135C464.68 134.88 465.97 134.93 467 134.8C468.03 134.67 468.97 134.63 469.7 134.2C470.43 133.77 470.92 132.95 471.4 132.2C471.88 131.45 472.25 129.37 472.6 129.7C472.95 130.03 473.25 132.82 473.5 134.2C473.75 135.58 473.78 136.33 474.1 138C474.42 139.67 474.88 141.98 475.4 144.2C475.92 146.42 476.53 149.07 477.2 151.3C477.87 153.53 478.68 155.82 479.4 157.6C480.12 159.38 480.72 160.6 481.5 162C482.28 163.4 483.22 164.95 484.1 166C484.98 167.05 485.7 167.53 486.8 168.3C487.9 169.07 489.02 169.85 490.7 170.6C492.38 171.35 494.83 172.23 496.9 172.8C498.97 173.37 501.05 173.63 503.1 174C505.15 174.37 507 174.73 509.2 175C511.4 175.27 513.63 175.5 516.3 175.6C518.97 175.7 522.67 175.63 525.2 175.6C527.73 175.57 530.45 175.43 531.5 175.4" fill="none" stroke="#0000ff" stroke-width="1.3" stroke-linejoin="round" clip-path="url(#cd)"/>
<g font-size="9.1" text-anchor="middle"><text transform="translate(298.5 209.5) scale(0.92 1)">0.02</text><text transform="translate(327.62 209.5) scale(0.92 1)">0.04</text><text transform="translate(356.75 209.5) scale(0.92 1)">0.06</text><text transform="translate(385.88 209.5) scale(0.92 1)">0.08</text><text transform="translate(415 209.5) scale(0.92 1)">0.1</text><text transform="translate(444.12 209.5) scale(0.92 1)">0.12</text><text transform="translate(473.25 209.5) scale(0.92 1)">0.14</text><text transform="translate(502.38 209.5) scale(0.92 1)">0.16</text><text transform="translate(531.5 209.5) scale(0.92 1)">0.18</text></g>
<g font-size="9.1" text-anchor="end"><text transform="translate(295 201) scale(0.92 1)">0</text><text transform="translate(295 174.37) scale(0.92 1)">5</text><text transform="translate(295 147.73) scale(0.92 1)">10</text><text transform="translate(295 121.1) scale(0.92 1)">15</text></g>
<text font-size="9.2" text-anchor="middle" x="413.8" y="221.6">(d)</text>
<text font-size="9.2" text-anchor="middle" x="415" y="233.8">Time (s)</text>
<clipPath id="ce"><rect x="132.3" y="238" width="329.4" height="80.4"/></clipPath>
<path d="M133.3 239H460.7V317.4H133.3Z" fill="none" stroke="#a0a0a0" stroke-width="1"/>
<path d="M174.5 317.4v-2.2M174.5 239v2.2M215.5 317.4v-2.2M215.5 239v2.2M256.5 317.4v-2.2M256.5 239v2.2M296.5 317.4v-2.2M296.5 239v2.2M337.5 317.4v-2.2M337.5 239v2.2M378.5 317.4v-2.2M378.5 239v2.2M419.5 317.4v-2.2M419.5 239v2.2M133.3 291.5h2.2M460.7 291.5h-2.2M133.3 265.5h2.2M460.7 265.5h-2.2" fill="none" stroke="#8a8a8a" stroke-width="1"/>
<path d="M133.3 317.4C134.97 317.37 140.17 317.2 143.3 317.2C146.43 317.2 149.15 317.48 152.1 317.4C155.05 317.32 158.05 316.92 161 316.7C163.95 316.48 166.63 316.37 169.8 316.1C172.97 315.83 177.42 315.32 180 315.1C182.58 314.88 183.68 315.08 185.3 314.8C186.92 314.52 188.37 314 189.7 313.4C191.03 312.8 192.12 312.23 193.3 311.2C194.48 310.17 195.63 308.75 196.8 307.2C197.97 305.65 199.12 303.67 200.3 301.9C201.48 300.13 202.87 298.37 203.9 296.6C204.93 294.83 205.72 293.38 206.5 291.3C207.28 289.22 207.88 287.07 208.6 284.1C209.32 281.13 210.28 277.18 210.8 273.5C211.32 269.82 211.28 267.7 211.7 262C212.12 256.3 212.78 239.3 213.3 239.3C213.82 239.3 214.48 256 214.8 262C215.12 268 215.05 268.62 215.2 275.3C215.35 281.98 215.4 300.23 215.7 302.1C216 303.97 216.62 286.97 217 286.5C217.38 286.03 217.55 295.5 218 299.3C218.45 303.1 219.18 306.75 219.7 309.3C220.22 311.85 220.52 313.35 221.1 314.6C221.68 315.85 222.27 316.43 223.2 316.8C224.13 317.17 225.38 317.1 226.7 316.8C228.02 316.5 229.63 315.52 231.1 315C232.57 314.48 233.9 313.98 235.5 313.7C237.1 313.42 239.1 313.23 240.7 313.3C242.3 313.37 243.8 313.67 245.1 314.1C246.4 314.53 247.2 315.42 248.5 315.9C249.8 316.38 251.43 316.9 252.9 317C254.37 317.1 255.85 316.68 257.3 316.5C258.75 316.32 259.95 316 261.6 315.9C263.25 315.8 264.95 315.68 267.2 315.9C269.45 316.12 272.77 317.17 275.1 317.2C277.43 317.23 279.32 316.38 281.2 316.1C283.08 315.82 284.65 315.5 286.4 315.5C288.15 315.5 289.93 315.82 291.7 316.1C293.47 316.38 295.23 317.2 297 317.2C298.77 317.2 300.53 316.38 302.3 316.1C304.07 315.82 305.85 315.5 307.6 315.5C309.35 315.5 310.92 315.82 312.8 316.1C314.68 316.38 316.57 317.23 318.9 317.2C321.23 317.17 324.55 316.12 326.8 315.9C329.05 315.68 330.75 315.8 332.4 315.9C334.05 316 335.25 316.32 336.7 316.5C338.15 316.68 339.63 317.1 341.1 317C342.57 316.9 344.2 316.38 345.5 315.9C346.8 315.42 347.6 314.53 348.9 314.1C350.2 313.67 351.7 313.37 353.3 313.3C354.9 313.23 356.9 313.42 358.5 313.7C360.1 313.98 361.43 314.48 362.9 315C364.37 315.52 365.98 316.5 367.3 316.8C368.62 317.1 369.87 317.17 370.8 316.8C371.73 316.43 372.32 315.85 372.9 314.6C373.48 313.35 373.78 311.85 374.3 309.3C374.82 306.75 375.55 303.1 376 299.3C376.45 295.5 376.62 286.03 377 286.5C377.38 286.97 378 303.97 378.3 302.1C378.6 300.23 378.65 281.98 378.8 275.3C378.95 268.62 378.88 268 379.2 262C379.52 256 380.18 239.3 380.7 239.3C381.22 239.3 381.88 256.3 382.3 262C382.72 267.7 382.68 269.82 383.2 273.5C383.72 277.18 384.68 281.13 385.4 284.1C386.12 287.07 386.72 289.22 387.5 291.3C388.28 293.38 389.07 294.83 390.1 296.6C391.13 298.37 392.52 300.13 393.7 301.9C394.88 303.67 396.03 305.65 397.2 307.2C398.37 308.75 399.52 310.17 400.7 311.2C401.88 312.23 402.97 312.8 404.3 313.4C405.63 314 407.08 314.52 408.7 314.8C410.32 315.08 411.42 314.88 414 315.1C416.58 315.32 421.03 315.83 424.2 316.1C427.37 316.37 430.05 316.48 433 316.7C435.95 316.92 438.95 317.32 441.9 317.4C444.85 317.48 447.57 317.2 450.7 317.2C453.83 317.2 459.03 317.37 460.7 317.4" fill="none" stroke="#0000ff" stroke-width="1.3" stroke-linejoin="round" clip-path="url(#ce)"/>
<g font-size="9.1" text-anchor="middle"><text transform="translate(133.3 330.2) scale(0.92 1)">0.02</text><text transform="translate(174.23 330.2) scale(0.92 1)">0.04</text><text transform="translate(215.15 330.2) scale(0.92 1)">0.06</text><text transform="translate(256.07 330.2) scale(0.92 1)">0.08</text><text transform="translate(297 330.2) scale(0.92 1)">0.1</text><text transform="translate(337.92 330.2) scale(0.92 1)">0.12</text><text transform="translate(378.85 330.2) scale(0.92 1)">0.14</text><text transform="translate(419.78 330.2) scale(0.92 1)">0.16</text><text transform="translate(460.7 330.2) scale(0.92 1)">0.18</text></g>
<g font-size="9.1" text-anchor="end"><text transform="translate(129.7 321.4) scale(0.92 1)">0</text><text transform="translate(129.7 295.27) scale(0.92 1)">0.2</text><text transform="translate(129.7 269.13) scale(0.92 1)">0.4</text><text transform="translate(129.7 243) scale(0.92 1)">0.6</text></g>
<text font-size="9.2" text-anchor="middle" x="296" y="341.2">(e)</text>
<text font-size="9.2" text-anchor="middle" x="297" y="353.9">Time (s)</text>
<text font-size="9.2" text-anchor="middle" transform="translate(9.3 44.7) rotate(-90)">Voltage(pu)</text><text font-size="9.2" text-anchor="middle" transform="translate(285.2 47) rotate(-90)">SPDI</text><text font-size="9.2" text-anchor="middle" transform="translate(13.2 155.5) rotate(-90)">HPDI</text><text font-size="9.2" text-anchor="middle" transform="translate(281.3 157.3) rotate(-90)">CPDI</text><text font-size="9.2" text-anchor="middle" transform="translate(112.7 278.3) rotate(-90)">LPDI</text>
</svg>
</body></html>
